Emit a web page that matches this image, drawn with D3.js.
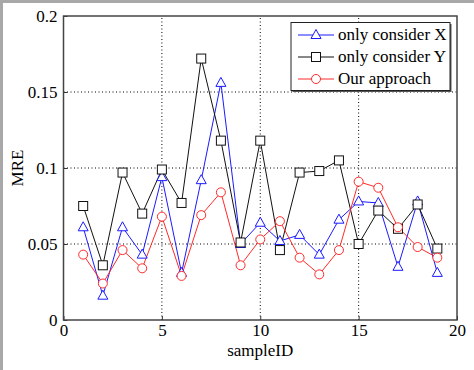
<!DOCTYPE html>
<html>
<head>
<meta charset="utf-8">
<script src="https://cdn.jsdelivr.net/npm/d3@7"></script>
<style>
  body { margin: 0; background: #fff; }
  svg { display: block; font-family: "Liberation Serif", "DejaVu Serif", serif; }
</style>
</head>
<body>
<div id="chart"></div>
<script>
const sampleIds = [1, 2, 3, 4, 5, 6, 7, 8, 9, 10, 11, 12, 13, 14, 15, 16, 17, 18, 19];
const considerX = [0.061, 0.016, 0.061, 0.043, 0.094, 0.031, 0.092, 0.156, 0.050, 0.064, 0.052, 0.056, 0.043, 0.066, 0.078, 0.077, 0.035, 0.078, 0.031];
const considerY = [0.075, 0.036, 0.097, 0.070, 0.099, 0.077, 0.172, 0.118, 0.051, 0.118, 0.046, 0.097, 0.098, 0.105, 0.050, 0.072, 0.060, 0.076, 0.047];
const ourApproach = [0.043, 0.024, 0.046, 0.034, 0.068, 0.029, 0.069, 0.084, 0.036, 0.053, 0.065, 0.041, 0.030, 0.046, 0.091, 0.087, 0.061, 0.048, 0.041];
const xTicks = [0, 5, 10, 15, 20];
const yTicks = [0, 0.05, 0.1, 0.15, 0.2];
const seriesNames = ["only consider X", "only consider Y", "Our approach"];

const W = 474, H = 370;
const margin = {top: 16, right: 17, bottom: 50, left: 63.5};
const fs = 17;

const svg = d3.select("#chart").append("svg")
  .attr("width", W).attr("height", H);

// grey figure border (top/left)
svg.append("rect").attr("x", 0).attr("y", 0).attr("width", W).attr("height", 3).attr("fill", "#a8a8a8");
svg.append("rect").attr("x", 0).attr("y", 0).attr("width", 3).attr("height", H).attr("fill", "#a8a8a8");

const x = d3.scaleLinear().domain([0, 20]).range([margin.left, W - margin.right]);
const y = d3.scaleLinear().domain([0, 0.2]).range([H - margin.bottom, margin.top]);

// grid
const grid = svg.append("g");
grid.selectAll(".gx").data(xTicks.slice(1, -1)).join("line")
  .attr("x1", d => x(d)).attr("x2", d => x(d))
  .attr("y1", y(0)).attr("y2", y(0.2))
  .attr("stroke", "#000").attr("stroke-width", 1).attr("stroke-dasharray", "1,2.5");
grid.selectAll(".gy").data(yTicks.slice(1, -1)).join("line")
  .attr("x1", x(0)).attr("x2", x(20))
  .attr("y1", d => y(d)).attr("y2", d => y(d))
  .attr("stroke", "#000").attr("stroke-width", 1).attr("stroke-dasharray", "1,2.5");

// axes
const xAxis = svg.append("g").attr("transform", `translate(0,${y(0)})`)
  .call(d3.axisBottom(x).tickValues(xTicks).tickFormat(d3.format("d")).tickSizeInner(-4).tickSizeOuter(0).tickPadding(4));
const yAxis = svg.append("g").attr("transform", `translate(${x(0)},0)`)
  .call(d3.axisLeft(y).tickValues(yTicks).tickFormat(d => d === 0 ? "0" : String(d)).tickSizeInner(-4).tickSizeOuter(0).tickPadding(6));
[xAxis, yAxis].forEach(a => {
  a.select(".domain").remove();
  a.selectAll("text").attr("font-size", fs).attr("fill", "#000")
    .attr("font-family", "Liberation Serif, serif");
  a.selectAll("line").attr("stroke", "#333");
});
xAxis.selectAll("text").attr("dy", "0.71em");

// frame
svg.append("rect").attr("x", x(0)).attr("y", y(0.2))
  .attr("width", x(20) - x(0)).attr("height", y(0) - y(0.2))
  .attr("fill", "none").attr("stroke", "#444").attr("stroke-width", 1.5);

// labels
svg.append("text").attr("x", (x(0) + x(20)) / 2).attr("y", 356)
  .attr("text-anchor", "middle").attr("font-size", fs).text("sampleID");
svg.append("text").attr("transform", `translate(23,${(y(0) + y(0.2)) / 2}) rotate(-90)`)
  .attr("text-anchor", "middle").attr("font-size", fs).text("MRE");

const series = [
  {name: seriesNames[0], values: considerX, color: "#1a1aff", marker: "triangle"},
  {name: seriesNames[1], values: considerY, color: "#111", marker: "square"},
  {name: seriesNames[2], values: ourApproach, color: "#ff2a2a", marker: "circle"}
];

const line = d3.line().x((d, i) => x(sampleIds[i])).y(d => y(d));

function drawMarker(g, type, color) {
  if (type === "triangle") {
    g.append("path").attr("d", "M0,-5.5L5,3.5L-5,3.5Z")
      .attr("fill", "#fff").attr("stroke", color).attr("stroke-width", 1);
  } else if (type === "square") {
    g.append("rect").attr("x", -4.5).attr("y", -4.5).attr("width", 9).attr("height", 9)
      .attr("fill", "#fff").attr("stroke", color).attr("stroke-width", 1);
  } else {
    g.append("circle").attr("r", 4.5)
      .attr("fill", "#fff").attr("stroke", color).attr("stroke-width", 1);
  }
}

series.forEach(s => {
  svg.append("path").datum(s.values).attr("d", line)
    .attr("fill", "none").attr("stroke", s.color).attr("stroke-width", 1);
});
series.forEach(s => {
  s.values.forEach((v, i) => {
    const g = svg.append("g").attr("transform", `translate(${x(sampleIds[i])},${y(v)})`);
    drawMarker(g, s.marker, s.color);
  });
});

// legend
const lg = svg.append("g").attr("transform", "translate(291,22.5)");
lg.append("rect").attr("x", 1.5).attr("y", 1.5).attr("width", 159).attr("height", 68).attr("fill", "#555");
lg.append("rect").attr("width", 159).attr("height", 68).attr("fill", "#fff").attr("stroke", "#222").attr("stroke-width", 1);
series.forEach((s, i) => {
  const yy = 12.5 + i * 22;
  lg.append("line").attr("x1", 7).attr("x2", 43).attr("y1", yy).attr("y2", yy)
    .attr("stroke", s.color).attr("stroke-width", 1);
  const m = lg.append("g").attr("transform", `translate(25,${yy})`);
  drawMarker(m, s.marker, s.color);
  lg.append("text").attr("x", 47).attr("y", yy).attr("dy", "0.32em")
    .attr("font-size", fs).text(s.name);
});
</script>
</body>
</html>
